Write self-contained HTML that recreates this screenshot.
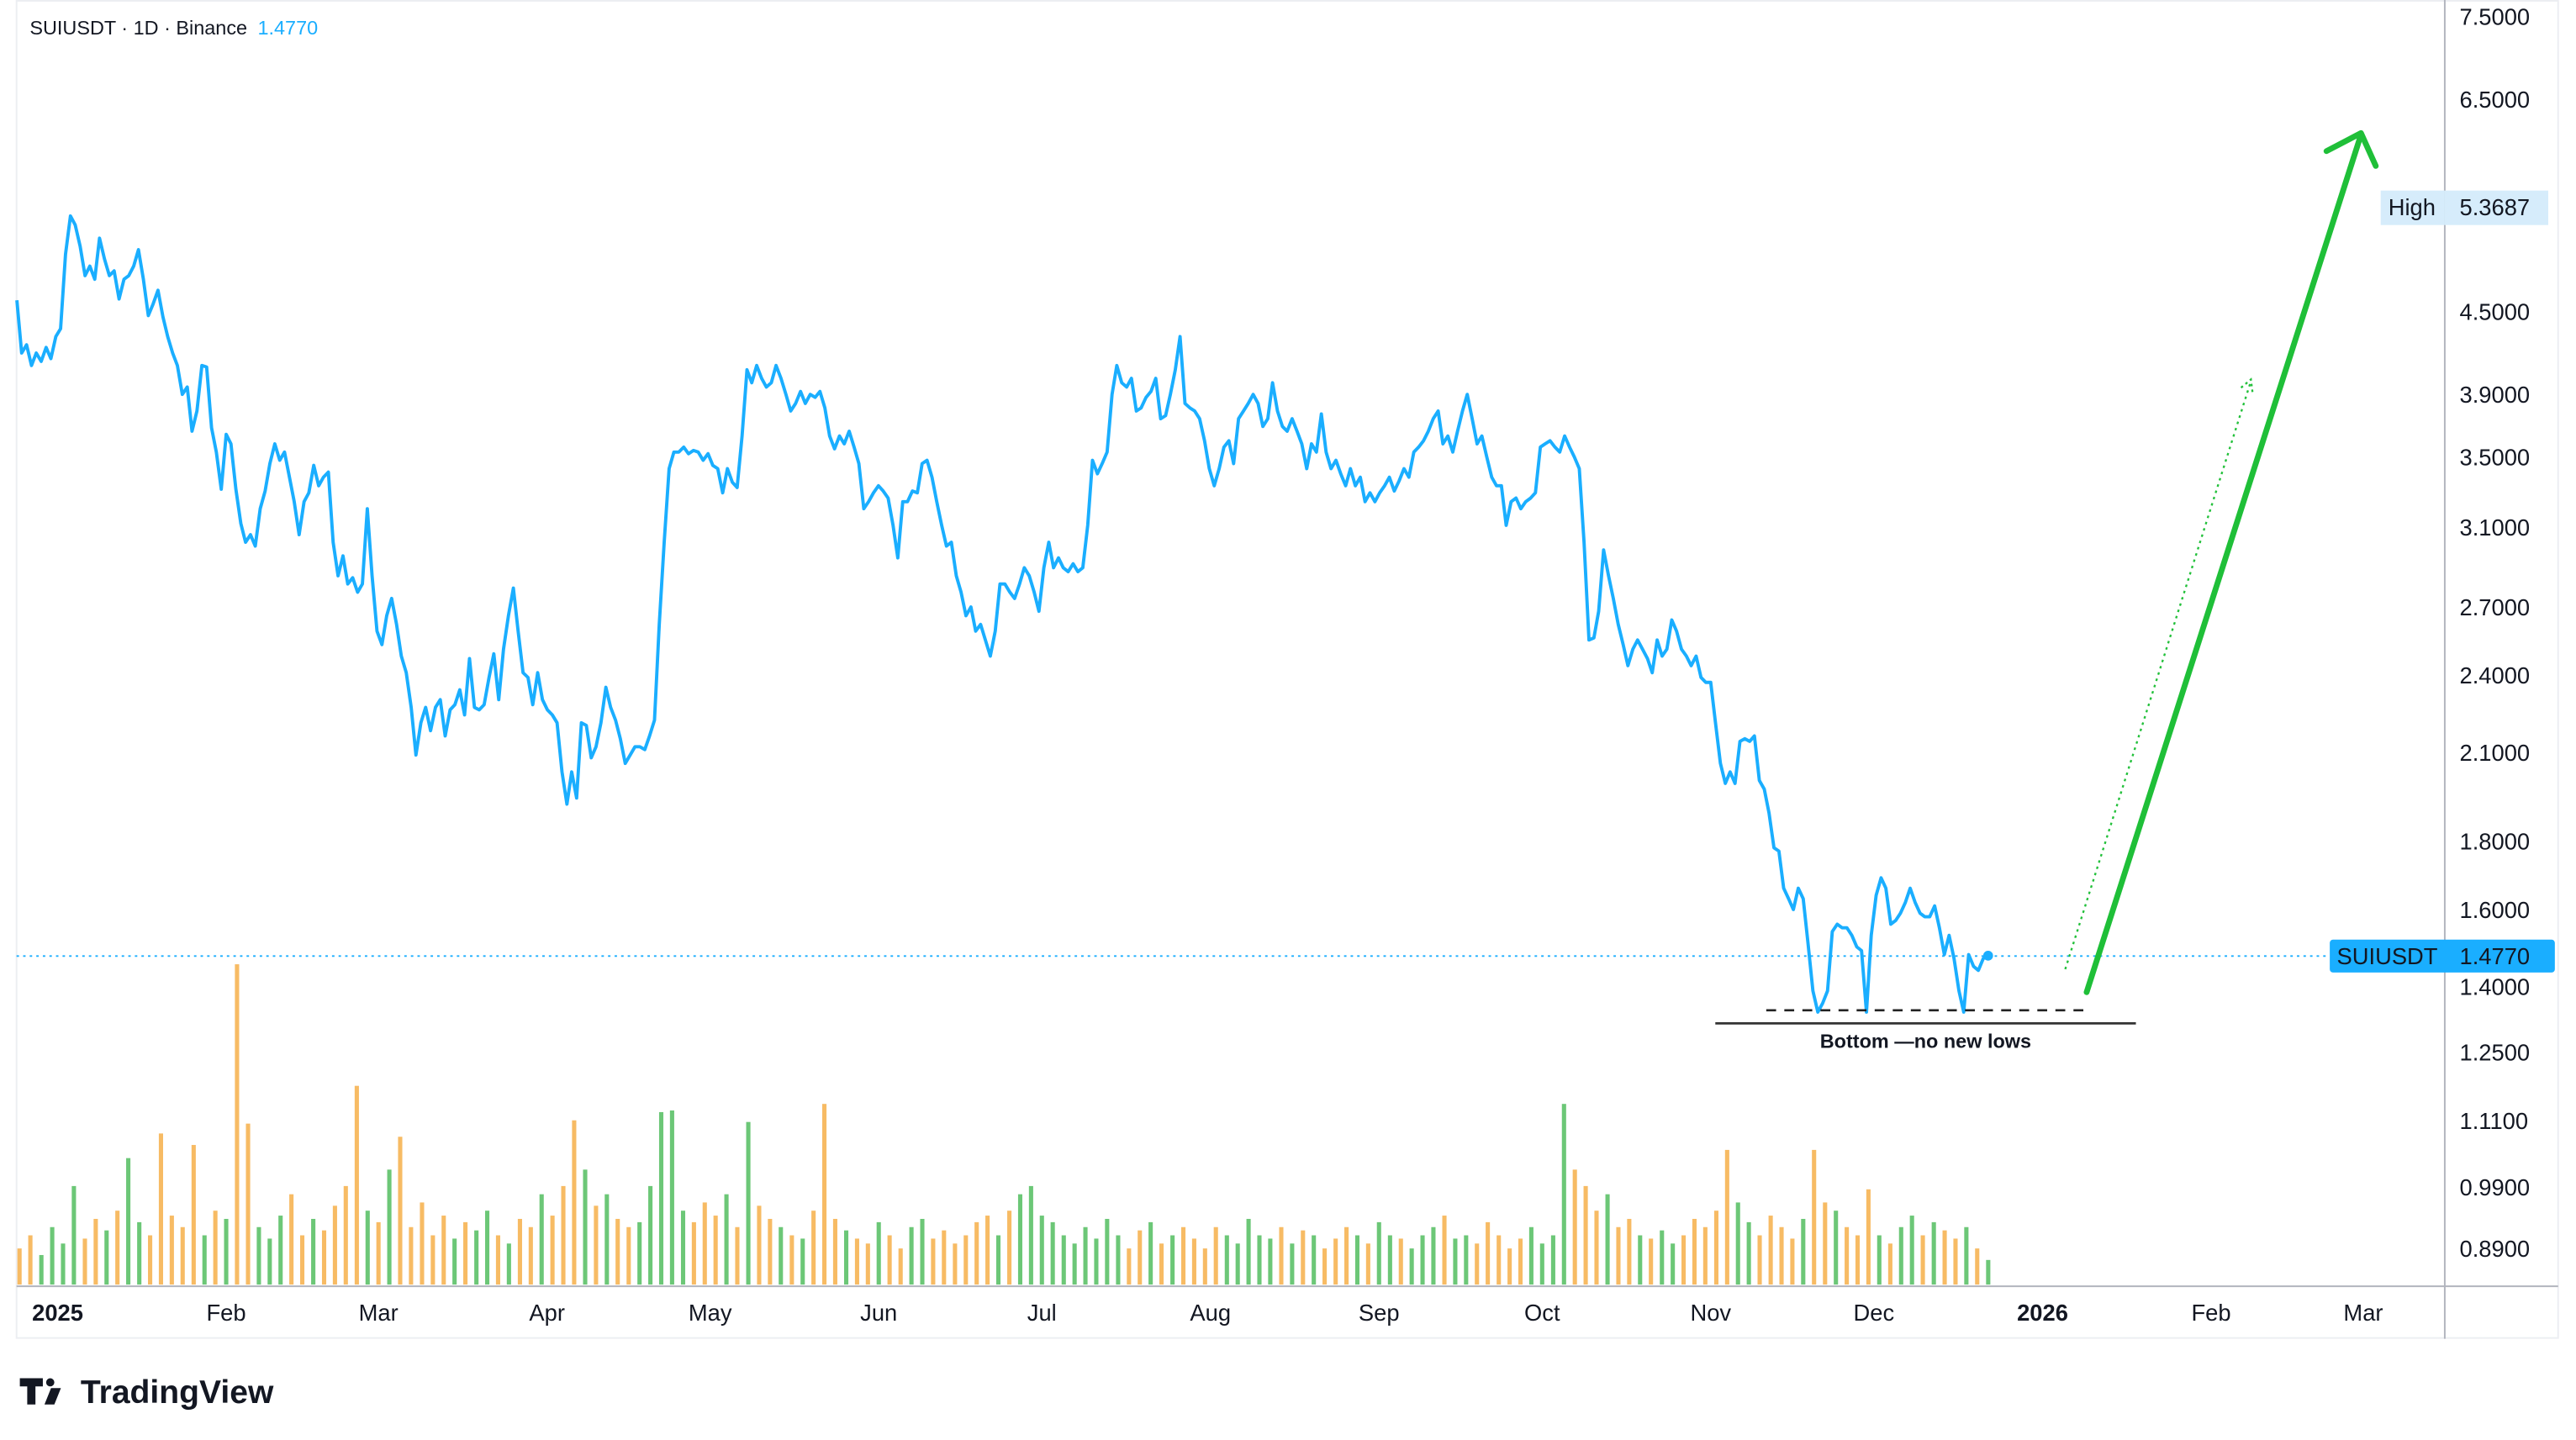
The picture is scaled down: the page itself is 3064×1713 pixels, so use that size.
<!DOCTYPE html>
<html><head><meta charset="utf-8"><style>
html,body{margin:0;padding:0;background:#fff;}
svg{display:block;font-family:"Liberation Sans",Arial,sans-serif;}
</style></head><body>
<svg id="chart" width="3064" height="1713" viewBox="0 0 1567.8 876.6" xmlns="http://www.w3.org/2000/svg">
<rect x="0" y="0" width="1567.8" height="876.6" fill="#ffffff"/>
<rect x="10" y="0.5" width="1547" height="814" fill="none" stroke="#eceef2" stroke-width="1"/>
<g id="vol"></g>
<line x1="10" y1="783" x2="1557" y2="783" stroke="#b2b5be" stroke-width="1"/>
<line x1="1488" y1="0" x2="1488" y2="815" stroke="#b2b5be" stroke-width="1"/>
<g id="yticks"></g>
<g id="xticks"></g>
<line x1="10" y1="582" x2="1418" y2="582" stroke="#1aaeff" stroke-width="1" stroke-dasharray="1.5,2.5"/>
<path id="priceLine" fill="none" stroke="#1aaeff" stroke-width="2" stroke-linejoin="round"/>
<circle id="lastDot" r="3" fill="#1aaeff"/>
<line x1="1075" y1="615" x2="1272" y2="615" stroke="#222" stroke-width="1.3" stroke-dasharray="6,5"/>
<line x1="1044" y1="623" x2="1300" y2="623" stroke="#333" stroke-width="1.4"/>
<text x="1172" y="638" font-size="12" font-weight="bold" fill="#131722" text-anchor="middle">Bottom —no new lows</text>
<g stroke="#22c03a" stroke-width="1.2" fill="none">
<line x1="1257" y1="590" x2="1370" y2="232" stroke-dasharray="1.5,2.5"/>
<polyline points="1364,236 1370,231 1371,239" stroke-dasharray="1.5,2"/>
</g>
<g stroke="#1fbf38" stroke-width="3.5" fill="none" stroke-linecap="round" stroke-linejoin="round">
<line x1="1270" y1="604" x2="1437" y2="82"/>
<polyline points="1416,92 1437,81 1446,101"/>
</g>
<g>
<rect x="1449" y="116" width="39" height="21" fill="#d6ecfb"/>
<text x="1468" y="131" font-size="14" fill="#131722" text-anchor="middle">High</text>
<rect x="1488" y="116" width="63" height="21" fill="#d6ecfb"/>
<text x="1497" y="131" font-size="14" fill="#131722">5.3687</text>
</g>
<g>
<rect x="1418" y="572" width="137" height="20" rx="2" fill="#1aaeff"/>
<text x="1453" y="587" font-size="14" fill="#131722" text-anchor="middle">SUIUSDT</text>
<text x="1497" y="587" font-size="14" fill="#131722">1.4770</text>
</g>
<text x="18" y="21" font-size="12" fill="#131722">SUIUSDT · 1D · Binance <tspan fill="#1aaeff" dx="3">1.4770</tspan></text>
<g>
<path d="M12 839h14v5h-4.5v11h-5v-11H12z M27 855 l4-10 h6 l-4 10z" fill="#131722"/>
<circle cx="30.5" cy="841.5" r="2.5" fill="#131722"/>
<text x="49" y="854" font-size="20" font-weight="bold" fill="#131722">TradingView</text>
</g>
</svg>
<script>
// ---- data ----
const startDay = -7.5;
const endDay = 355;
const prices = [4.59,4.19,4.25,4.10,4.19,4.13,4.23,4.15,4.31,4.37,4.97,5.31,5.23,5.04,4.79,4.87,4.76,5.11,4.93,4.79,4.83,4.60,4.76,4.79,4.87,5.01,4.76,4.47,4.56,4.67,4.46,4.31,4.19,4.10,3.90,3.95,3.66,3.79,4.10,4.09,3.68,3.53,3.31,3.64,3.58,3.31,3.12,3.02,3.06,3.00,3.20,3.30,3.46,3.58,3.48,3.53,3.38,3.24,3.06,3.24,3.29,3.45,3.33,3.38,3.41,3.02,2.85,2.95,2.81,2.84,2.77,2.81,3.20,2.85,2.59,2.53,2.66,2.74,2.62,2.48,2.41,2.27,2.09,2.21,2.27,2.18,2.27,2.30,2.16,2.26,2.28,2.34,2.24,2.47,2.27,2.26,2.28,2.39,2.49,2.30,2.51,2.66,2.79,2.59,2.41,2.39,2.28,2.41,2.30,2.26,2.24,2.21,2.03,1.92,2.03,1.94,2.21,2.20,2.08,2.12,2.21,2.35,2.27,2.22,2.15,2.06,2.09,2.12,2.12,2.11,2.16,2.22,2.62,3.02,3.43,3.53,3.53,3.56,3.52,3.54,3.53,3.48,3.52,3.45,3.43,3.29,3.43,3.35,3.32,3.63,4.07,3.98,4.10,4.01,3.95,3.98,4.10,4.01,3.90,3.79,3.84,3.92,3.84,3.90,3.88,3.92,3.81,3.63,3.55,3.63,3.58,3.66,3.56,3.46,3.20,3.24,3.29,3.33,3.30,3.26,3.11,2.94,3.24,3.24,3.30,3.29,3.46,3.48,3.38,3.24,3.11,3.00,3.02,2.85,2.77,2.66,2.70,2.59,2.62,2.55,2.48,2.59,2.81,2.81,2.77,2.74,2.81,2.89,2.85,2.77,2.68,2.89,3.02,2.89,2.94,2.89,2.87,2.91,2.87,2.89,3.11,3.48,3.40,3.46,3.53,3.90,4.10,3.98,3.95,4.01,3.79,3.81,3.88,3.92,4.01,3.74,3.76,3.90,4.07,4.31,3.84,3.81,3.79,3.74,3.60,3.43,3.33,3.43,3.56,3.60,3.46,3.74,3.79,3.84,3.90,3.84,3.69,3.74,3.98,3.79,3.69,3.66,3.74,3.66,3.58,3.43,3.58,3.53,3.77,3.53,3.43,3.48,3.40,3.33,3.43,3.33,3.38,3.24,3.29,3.24,3.29,3.33,3.38,3.30,3.36,3.43,3.38,3.53,3.56,3.60,3.66,3.74,3.79,3.58,3.63,3.53,3.66,3.79,3.90,3.74,3.58,3.63,3.50,3.38,3.33,3.33,3.11,3.24,3.26,3.20,3.24,3.26,3.29,3.56,3.58,3.60,3.56,3.53,3.63,3.56,3.50,3.43,3.02,2.55,2.56,2.68,2.98,2.85,2.74,2.62,2.53,2.44,2.51,2.55,2.51,2.47,2.41,2.55,2.48,2.51,2.64,2.59,2.51,2.48,2.44,2.48,2.39,2.37,2.37,2.21,2.06,1.99,2.03,1.99,2.14,2.15,2.14,2.16,2.00,1.97,1.89,1.78,1.77,1.66,1.63,1.60,1.66,1.63,1.51,1.39,1.34,1.36,1.39,1.54,1.56,1.55,1.55,1.53,1.50,1.49,1.34,1.53,1.64,1.69,1.66,1.56,1.57,1.59,1.62,1.66,1.62,1.59,1.58,1.58,1.61,1.55,1.48,1.53,1.47,1.39,1.34,1.48,1.45,1.44,1.47,1.477];
const volStartDay = -7;
const volStepDays = 2;
const volumes = [22,30,18,35,25,60,28,40,33,45,77,38,30,92,42,35,85,30,45,40,195,98,35,28,42,55,30,40,33,48,60,121,45,38,70,90,35,50,30,42,28,38,33,45,30,25,40,35,55,42,60,100,70,48,55,40,35,38,60,105,106,45,38,50,42,55,35,99,48,40,35,30,28,45,110,40,33,28,25,38,30,22,35,40,28,33,25,30,38,42,30,45,55,60,42,38,30,25,35,28,40,30,22,33,38,25,30,35,28,22,35,30,25,40,30,28,35,25,33,30,22,28,35,30,25,38,30,28,22,30,35,42,28,30,25,38,30,22,28,35,25,30,110,70,60,45,55,35,40,30,28,33,25,30,40,35,45,82,50,38,30,42,35,28,40,82,50,45,35,30,58,30,25,35,42,30,38,33,28,35,22,15];
const yTicks = [7.5,6.5,4.5,3.9,3.5,3.1,2.7,2.4,2.1,1.8,1.6,1.4,1.25,1.11,0.99,0.89];
const xTickLabels = ["2025","Feb","Mar","Apr","May","Jun","Jul","Aug","Sep","Oct","Nov","Dec","2026","Feb","Mar"];
const xTickDays = [0,31,59,90,120,151,181,212,243,273,304,334,365,396,424];

const NS = "http://www.w3.org/2000/svg";
function xScale(day){ return 35 + day*3.31; }
function yScale(p){ return 10 + (Math.log(7.5) - Math.log(p))*351.9; }
const volBase = 782;
function vScale(v){ return v*1.0; }

const n = prices.length;
let d = "";
prices.forEach((p,i)=>{
  const day = startDay + i*(endDay-startDay)/(n-1);
  d += (i? "L":"M") + xScale(day).toFixed(1) + " " + yScale(p).toFixed(1);
});
document.getElementById("priceLine").setAttribute("d", d);
const dot = document.getElementById("lastDot");
dot.setAttribute("cx", xScale(endDay));
dot.setAttribute("cy", yScale(prices[n-1]));

function priceAt(day){
  const idx = Math.round((day-startDay)/((endDay-startDay)/(n-1)));
  return prices[Math.max(0,Math.min(n-1,idx))];
}
const vg = document.getElementById("vol");
volumes.forEach((v,i)=>{
  const day = volStartDay + i*volStepDays;
  const up = priceAt(day) >= priceAt(day-volStepDays);
  const r = document.createElementNS(NS,"rect");
  
  
  r.setAttribute("x", (xScale(day)-1.3).toFixed(1));
  r.setAttribute("y", (volBase - vScale(v)).toFixed(1));
  r.setAttribute("width", 2.6);
  r.setAttribute("height", vScale(v).toFixed(1));
  r.setAttribute("fill", up ? "#6cc777" : "#f7bb64");
  vg.appendChild(r);
});

const yg = document.getElementById("yticks");
yTicks.forEach(t=>{
  const tx = document.createElementNS(NS,"text");
  
  
  tx.setAttribute("x", 1497);
  tx.setAttribute("y", (yScale(t)+5).toFixed(1));
  tx.setAttribute("font-size", "14");
  tx.setAttribute("fill", "#131722");
  tx.textContent = t.toFixed(4);
  yg.appendChild(tx);
});
const xg = document.getElementById("xticks");
xTickLabels.forEach((lab,i)=>{
  const tx = document.createElementNS(NS,"text");
  
  
  tx.setAttribute("x", xScale(xTickDays[i]).toFixed(1));
  tx.setAttribute("y", 804);
  tx.setAttribute("font-size", "14");
  tx.setAttribute("text-anchor", "middle");
  tx.setAttribute("fill", "#131722");
  if (/^\d{4}$/.test(lab)) tx.setAttribute("font-weight", "bold");
  tx.textContent = lab;
  xg.appendChild(tx);
});
</script>
</body></html>
